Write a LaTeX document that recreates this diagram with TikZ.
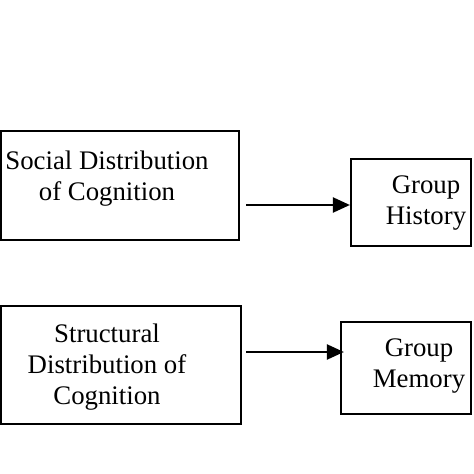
\documentclass[tikz,border=0pt]{standalone}
\usepackage{fontspec}
\setmainfont{Liberation Serif}
\usetikzlibrary{arrows.meta}

\begin{document}
\begin{tikzpicture}[x=1pt, y=-1pt]
                \tikzstyle{block} = [rectangle, draw=black, line width=2.2pt, inner sep=0pt, fill=white]
                \tikzstyle{txt} = [align=center, font=\fontsize{26.8}{31}\selectfont, inner sep=0pt]
                \tikzstyle{arrow} = [line width=2.2pt, -{Triangle[length=17pt,width=15pt]}]

                \fill[white] (0,0) rectangle (474,474);
                \clip (0,0) rectangle (474,474);
                \useasboundingbox (0,0) rectangle (474,474);

                \node (social) [block, minimum width=238pt, minimum height=109pt,
                    label={[txt, xshift=-13pt, yshift=7pt]center:Social Distribution\\of Cognition}] at (120,185.5) {};
                \node (history) [block, minimum width=120pt, minimum height=87pt,
                    label={[txt, xshift=15pt, yshift=-1pt]center:Group\\History}] at (411,202.5) {};
                \node (structural) [block, minimum width=240pt, minimum height=118pt,
                    label={[txt, xshift=-14pt, yshift=-2pt]center:Structural\\Distribution of\\Cognition}] at (121,365) {};
                \node (memory) [block, minimum width=130pt, minimum height=92pt,
                    label={[txt, xshift=13pt, yshift=2pt]center:Group\\Memory}] at (406,368) {};

                \draw [arrow] ([xshift=6pt, yshift=-2.5pt]social.east |- history.west) -- ([yshift=-2.5pt]history.west);
                \draw [arrow] ([xshift=4pt, yshift=13pt]structural.east) -- ([xshift=4pt, yshift=13pt]structural.east -| memory.west);
            \end{tikzpicture}
\end{document}
